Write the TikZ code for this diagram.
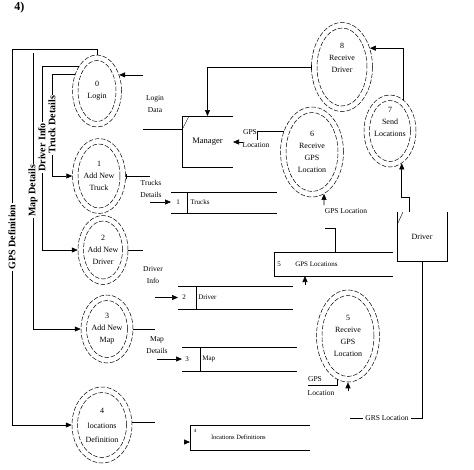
\documentclass[tikz,border=0pt]{standalone}
\usepackage{fontspec}
\setmainfont{Liberation Serif}
\usetikzlibrary{shapes.geometric,arrows.meta,calc}
\tikzset{
    ring/.style={ellipse, draw, dash pattern=on 4.5pt off 1.8pt, line width=0.5pt, inner sep=0pt},
    proc/.style 2 args={ring, minimum width=#1, minimum height=#2, align=center,
        font=\fontsize{8}{12}\selectfont,
        append after command={(\tikzlastnode.center) node[ring, minimum width=#1-11, minimum height=#2-11]{}}},
    flow/.style={-{Triangle[length=6pt,width=5pt]}},
    bflow/.style={{Bar[width=5pt]}-{Triangle[length=6pt,width=5pt]}},
    lbl/.style={font=\fontsize{7.5}{11.5}\selectfont, align=center, inner sep=0.5pt},
    vlbl/.style={font=\bfseries\fontsize{10}{12}\selectfont, rotate=90, fill=white, inner sep=1.5pt},
    stxt/.style={font=\fontsize{7}{8}\selectfont, inner sep=0pt},
    store/.style={rectangle, inner sep=0pt, outer sep=0pt}
}
\begin{document}
\begin{tikzpicture}[x=1pt, y=-1pt, line width=0.6pt]
        \useasboundingbox (0,0) rectangle (474,469);
        \node[font=\bfseries\fontsize{12}{12}\selectfont, anchor=base west, inner sep=0pt] (cap) at (14,10) {4)};

        \node[proc={49}{72}] (p0) at (97,91) {0\\Login};
        \node[proc={53}{75}] (p1) at (99,176) {1\\Add New\\Truck};
        \node[proc={50}{69}] (p2) at (103,250) {2\\Add New\\Driver};
        \node[proc={52}{68}] (p3) at (107,329) {3\\Add New\\Map};
        \node[proc={60}{76}] (p4) at (102,425) {4\\[3pt]locations\\[2pt]Definition};
        \node[proc={61}{89}] (p8) at (342,67) {8\\Receive\\Driver\\[6pt]};
        \node[proc={63}{90}] (p6) at (312,152) {6\\Receive\\GPS\\Location};
        \node[proc={52}{72}] (p7) at (390,131) {7\\Send\\Locations\\[6pt]};
        \node[proc={63}{92}] (p5) at (348,336) {5\\Receive\\GPS\\Location};

        \node[store, font=\fontsize{8.5}{10}\selectfont, minimum width=51, minimum height=51] (mgr) at (207.5,141.5) {Manager};
        \draw (mgr.north east) -- (mgr.north west) -- (mgr.south west) -- (mgr.south east);
        \draw[line width=0.4pt] ($(mgr.north west)+(1,12)$) -- ($(mgr.north west)+(7,0)$);
        \node[store, font=\fontsize{8}{10}\selectfont, minimum width=50, minimum height=49] (drv) at (422,236.5) {Driver};
        \draw (drv.north west) -- (drv.south west) -- (drv.south east) -- (drv.north east);
        \draw[line width=0.4pt] ($(drv.north west)+(0,13)$) -- ($(drv.north west)+(6,0)$);

        \node[store, minimum width=106, minimum height=21] (s1) at (224,202.5) {};
        \draw (s1.north west) -- (s1.north east) (s1.south west) -- (s1.south east);
        \draw ($(s1.north west)+(16,0)$) -- ($(s1.south west)+(16,0)$);
        \node[stxt] at ($(s1.west)+(7,0)$) {1};
        \node[stxt, anchor=west] at ($(s1.west)+(19,0)$) {Trucks};
        \node[store, minimum width=115, minimum height=23] (s2) at (235.5,297.5) {};
        \draw (s2.north west) -- (s2.north east) (s2.south west) -- (s2.south east);
        \draw ($(s2.north west)+(18,0)$) -- ($(s2.south west)+(18,0)$);
        \node[stxt] at ($(s2.west)+(6,0)$) {2};
        \node[stxt, anchor=west] at ($(s2.west)+(20,0)$) {Driver};
        \node[store, minimum width=115, minimum height=24] (s3) at (239.5,359) {};
        \draw (s3.north west) -- (s3.north east) (s3.south west) -- (s3.south east);
        \draw ($(s3.north west)+(18,0)$) -- ($(s3.south west)+(18,0)$);
        \node[stxt] at ($(s3.west)+(5,0)$) {3};
        \node[stxt, anchor=west] at ($(s3.west)+(20,0)$) {Map};
        \node[store, minimum width=120, minimum height=25] (s4) at (250,437.5) {};
        \draw (s4.north east) -- (s4.north west) -- (s4.south west) -- (s4.south east);
        \node[stxt, font=\fontsize{5}{6}\selectfont] at ($(s4.north west)+(5,6)$) {4};
        \node[stxt, font=\fontsize{6.5}{8}\selectfont, anchor=west] at ($(s4.west)+(21,0)$) {locations Definitions};
        \node[store, minimum width=119, minimum height=24] (s5) at (333.5,264) {};
        \draw (s5.north east) -- (s5.north west) -- (s5.south west) -- (s5.south east);
        \node[stxt] at ($(s5.west)+(5,0)$) {5};
        \node[stxt, anchor=west] at ($(s5.west)+(21,0)$) {GPS Locations};

        \coordinate (gd) at (12,49);
        \coordinate (md) at (33,53);
        \coordinate (di) at (42,0);
        \coordinate (td) at (52,0);
        \draw[flow] (p0.north) |- (gd) -- node[vlbl]{GPS Definition} (gd |- p4) -- (p4.west);
        \draw[flow] (md) -- node[vlbl]{Map Details} (md |- p3) -- (p3.west);
        \draw[flow] (p0.127) -- (p0.127 -| di) -- node[vlbl, pos=0.44]{Driver Info} (di |- p2) -- (p2.west);
        \draw[flow] (p0.142) -- (p0.142 -| td) -- node[vlbl]{Truck Details} (td |- p1) -- (p1.west);

        \coordinate (ld) at (143,129);
        \draw (mgr.west |- ld) -- (ld);
        \draw[flow] (p0.36 -| ld) -- (p0.36);
        \node[lbl] at (155,104) {Login\\Data};

        \draw[bflow] (p8.west) -| (mgr.north);
        \coordinate (g6) at (257,140);
        \coordinate (g6b) at (243,142);
        \draw (p6.143) -| (g6);
        \node[lbl] at (250,132) {GPS};
        \node[lbl] at (256,145) {Location};
        \draw[flow] (g6b) -- (g6b -| mgr.east);

        \draw[flow] (p7.67) |- (p8.34);
        \coordinate (dj) at (409,197);
        \draw[flow] (drv.north -| dj) -- (dj) -| (p7.-70);

        \coordinate (gl) at (350,418);
        \draw (drv.south) |- node[lbl, fill=white, pos=0.743, inner sep=2pt]{GRS Location} (gl);
        \coordinate (a5b) at (348,391);
        \draw[flow] (a5b) -- (a5b |- p5.south);

        \coordinate (gp) at (308,385);
        \draw (p5.256) |- (gp);
        \node[lbl] at (315,379) {GPS};
        \node[lbl] at (321,393) {Location};
        \coordinate (a5) at (305,285);
        \draw[flow] (a5) -- (a5 |- s5.south);

        \coordinate (gs) at (325,228);
        \coordinate (gs2) at (335,0);
        \draw (s5.north -| gs2) |- (gs);
        \node[lbl] at (346,211) {GPS Location};
        \coordinate (a6) at (324,205);
        \draw[flow] (a6) -- (p6.-74);

        \coordinate (t1) at (150,0);
        \coordinate (t2) at (150,202);
        \draw[{Bar[width=5pt]}-] (p1.east) -- (p1.east -| t1);
        \node[lbl] at (151,189) {Trucks\\Details};
        \draw[flow] (t2) -- (t2 -| s1.west);

        \coordinate (d1) at (143,0);
        \coordinate (d2) at (155,297.5);
        \draw (p2.east) -- (p2.east -| d1);
        \node[lbl] at (153,275) {Driver\\Info};
        \draw[flow] (d2) -- (d2 -| s2.west);

        \coordinate (m1) at (155,0);
        \coordinate (m2) at (157,359);
        \draw (p3.east) -- (p3.east -| m1);
        \node[lbl] at (157,345) {Map\\Details};
        \draw[flow] (m2) -- (m2 -| s3.west);

        \coordinate (l2) at (184,442);
        \draw (p4.5) -- (p4.5 -| m1);
        \draw[flow] (l2) -- (l2 -| s4.west);
\end{tikzpicture}
\end{document}
